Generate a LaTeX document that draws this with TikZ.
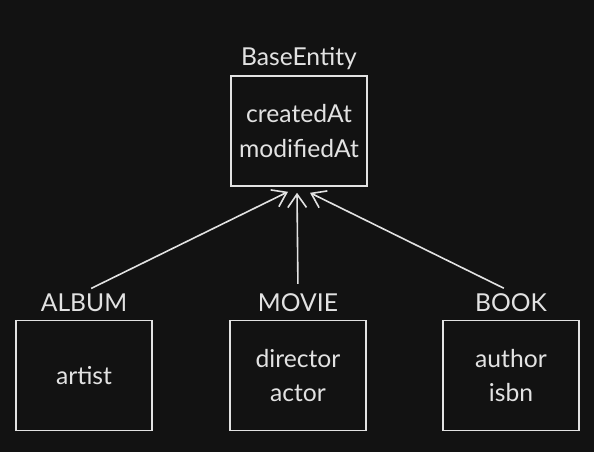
\documentclass[tikz,border=0pt]{standalone}
\usepackage{fontspec}
\setmainfont{Lato}
\usetikzlibrary{positioning,arrows.meta}
\definecolor{bg}{HTML}{121212}
\definecolor{ink}{HTML}{E2E2E2}

\begin{document}
\begin{tikzpicture}[x=0.75pt,y=-0.75pt,
    entity/.style={draw=ink,line width=1.2pt,minimum width=102pt,minimum height=82.5pt,
      text=ink,align=center,font=\fontsize{18.5}{26}\selectfont},
    title/.style={text=ink,font=\fontsize{18.5}{20}\selectfont,inner sep=1pt},
    inherit/.style={draw=ink,line width=1.2pt,-{Straight Barb[length=10pt,width=14pt]}}]
    \fill[bg] (0,0) rectangle (594,452);

    \node[entity] (base) at (299,131) {createdAt\\modifiedAt};
    \node[title,above=3pt of base] (baseT) {BaseEntity};

    \node[entity] (album) at (84,375.5) {artist};
    \node[entity] (movie) at (298,375.5) {director\\actor};
    \node[entity] (book) at (511,375.5) {author\\isbn};
    \node[title,above=5pt of album] (albumT) {ALBUM};
    \node[title,above=5pt of movie] (movieT) {MOVIE};
    \node[title,above=5pt of book] (bookT) {BOOK};

    % arrow tips under BaseEntity
    \coordinate (inL) at ([shift={(-11,5)}]base.south);
    \coordinate (inM) at ([shift={(-2,6)}]base.south);
    \coordinate (inR) at ([shift={(11,6)}]base.south);

    \draw[inherit,shorten <=6pt] (albumT.north) -- (inL);
    \draw[inherit,shorten <=6pt] (movieT.north) -- (inM);
    \draw[inherit,shorten <=6pt] (bookT.north) -- (inR);
\end{tikzpicture}
\end{document}
